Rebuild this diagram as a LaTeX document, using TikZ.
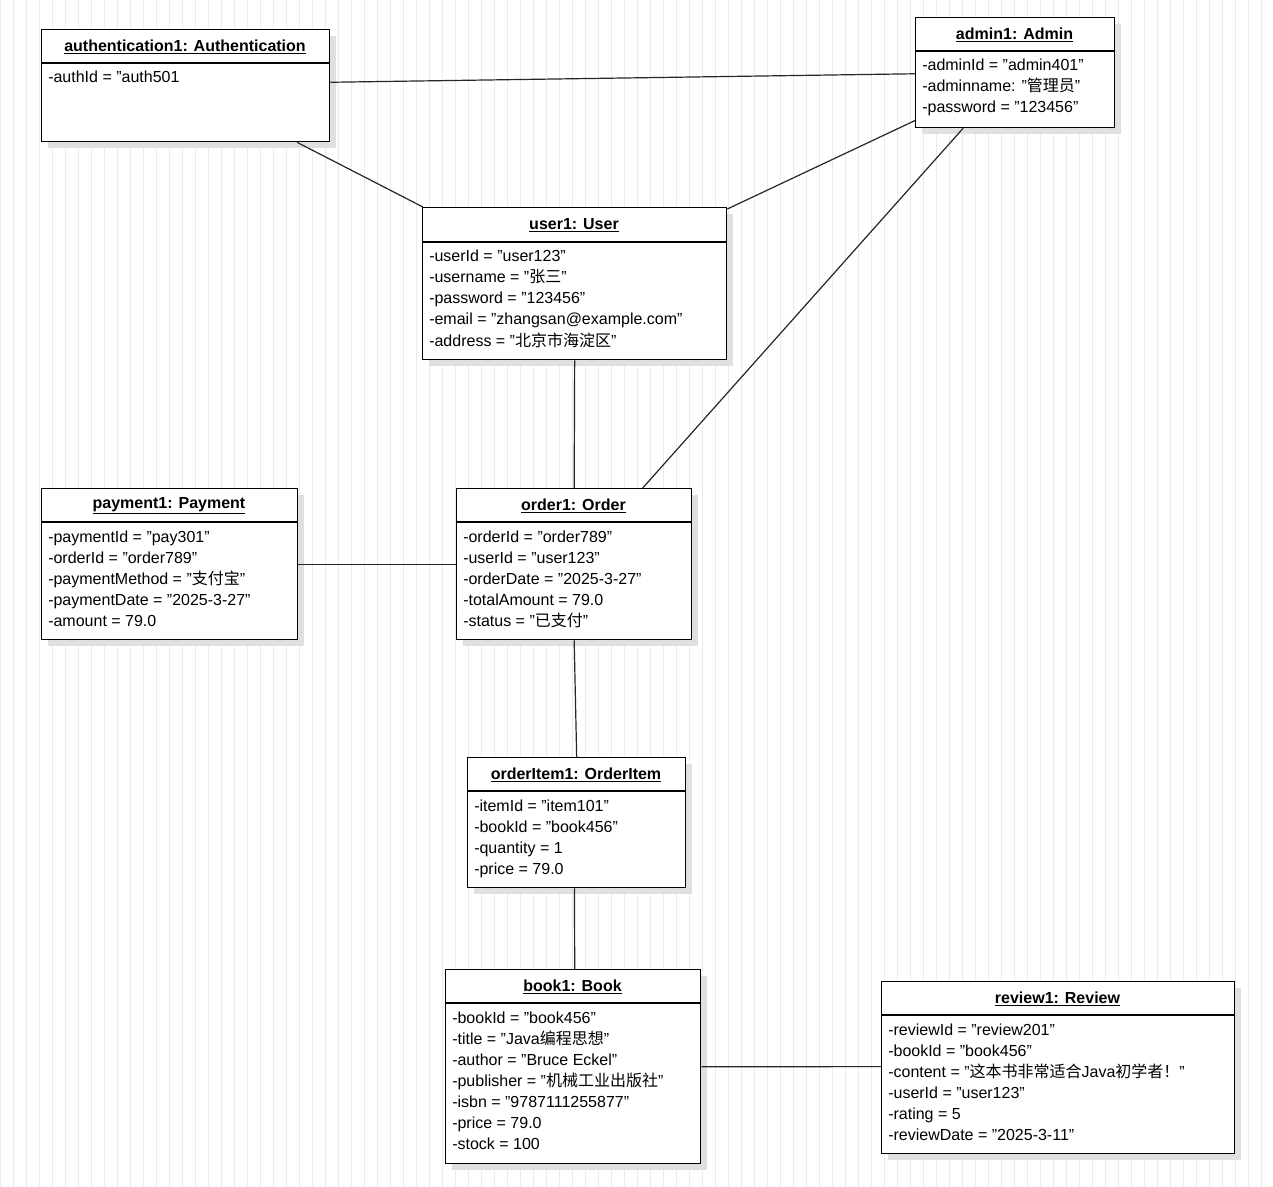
\documentclass[tikz,border=0pt]{standalone}
\usepackage{fontspec}
\setmainfont{Liberation Sans}
\newfontfamily\cjk{Noto Sans CJK SC}
\newcommand{\zh}[1]{{\cjk #1}}
\usetikzlibrary{calc}
\tikzset{
  box/.style={draw=black,line width=1pt,fill=white,rectangle,inner sep=0pt,anchor=north west},
  conn/.style={draw=black!85,line width=0.9pt},
  attr/.style={anchor=base west,inner sep=0pt,font=\fontsize{12}{14}\selectfont},
  ttl/.style={anchor=center,inner sep=0pt,font=\fontsize{12}{14}\selectfont\bfseries},
}
% name, x, y, w, h, header-line y, title, lines
\newcommand{\umlbox}[8]{%
  \fill[black!12] (#2+7,#3+7) rectangle ++(#4,#5);
  \node[box,minimum width=#4*0.75pt,minimum height=#5*0.75pt] (#1) at (#2,#3) {};
  \draw[line width=1pt] (#2,#6) -- (#2+#4,#6);
  \node[ttl] (#1-t) at (#2+#4/2,#3+18) {\underline{#7}};
  \foreach \t [count=\i] in {#8} {
    \node[attr] at (#2+7,#6+21*\i-1) {\t};
  }
}
\begin{document}
\begin{tikzpicture}[x=0.75pt,y=-0.75pt]
\useasboundingbox (0,0) rectangle (1273,1187);
\fill[white] (0,0) rectangle (1273,1187);
\draw[black!8,line width=0.4pt] (0,0) grid[step=13] (1273,1187);
\umlbox{auth}{41}{29}{288}{112}{63}{authentication1: Authentication}{{-authId = "auth501}}
\umlbox{admin}{915}{17}{199}{110}{51}{admin1: Admin}{{-adminId = "admin401"},{-adminname: "\zh{管理员}"},{-password = "123456"}}
\umlbox{user}{422}{207}{304}{152}{242}{user1: User}{{-userId = "user123"},{-username = "\zh{张三}"},{-password = "123456"},{-email = "zhangsan@example.com"},{-address = "\zh{北京市海淀区}"}}
\umlbox{pay}{41}{488}{256}{151}{522}{payment1: Payment}{{-paymentId = "pay301"},{-orderId = "order789"},{-paymentMethod = "\zh{支付宝}"},{-paymentDate = "2025-3-27"},{-amount = 79.0}}
\umlbox{order}{456}{488}{235}{151}{522}{order1: Order}{{-orderId = "order789"},{-userId = "user123"},{-orderDate = "2025-3-27"},{-totalAmount = 79.0},{-status = "\zh{已支付}"}}
\umlbox{item}{467}{757}{218}{130}{791}{orderItem1: OrderItem}{{-itemId = "item101"},{-bookId = "book456"},{-quantity = 1},{-price = 79.0}}
\umlbox{book}{445}{969}{255}{194}{1003}{book1: Book}{{-bookId = "book456"},{-title = "Java\zh{编程思想}"},{-author = "Bruce Eckel"},{-publisher = "\zh{机械工业出版社}"},{-isbn = "9787111255877"},{-price = 79.0},{-stock = 100}}
\umlbox{review}{881}{981}{353}{172}{1015}{review1: Review}{{-reviewId = "review201"},{-bookId = "book456"},{-content = "\zh{这本书非常适合}Java\zh{初学者！}"},{-userId = "user123"},{-rating = 5},{-reviewDate = "2025-3-11"}}
% connectors
\draw[conn] ($(auth.north east)!0.47!(auth.south east)$) -- ($(admin.north west)!0.51!(admin.south west)$);
\draw[conn] ($(auth.south west)!0.885!(auth.south east)$) -- ($(user.north west)!0.003!(user.north east)$);
\draw[conn] ($(admin.north west)!0.93!(admin.south west)$) -- ($(user.north east)!0.013!(user.south east)$);
\draw[conn] ($(admin.south west)!0.24!(admin.south east)$) -- ($(order.north west)!0.79!(order.north east)$);
\draw[conn] (user.south) -- (order.north);
\draw[conn] (pay.east) -- (order.west);
\draw[conn] (order.south) -- (item.north);
\draw[conn] ($(item.south west)!0.49!(item.south east)$) -- ($(book.north west)!0.506!(book.north east)$);
\draw[conn] ($(book.north east)!0.5!(book.south east)$) -- ($(review.north west)!0.494!(review.south west)$);
\end{tikzpicture}
\end{document}
